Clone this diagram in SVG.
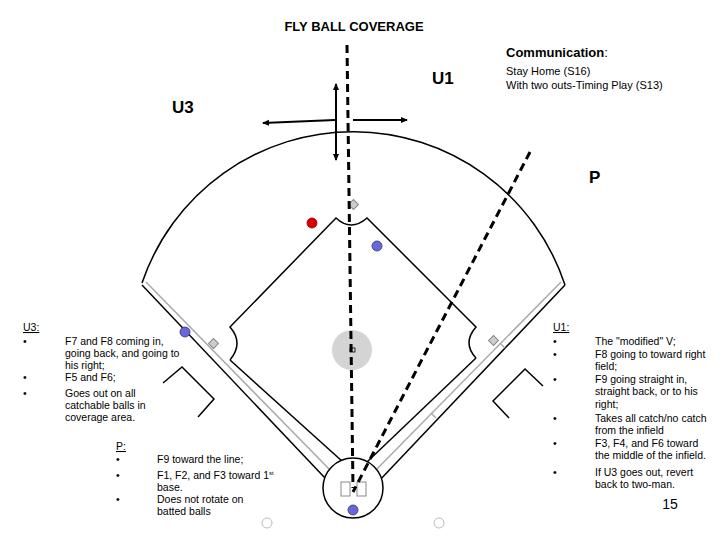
<svg xmlns="http://www.w3.org/2000/svg" width="720" height="540" viewBox="0 0 720 540">
<style>
text{font-family:"Liberation Sans",Arial,sans-serif;fill:#000}
.s{font-size:10.5px}
.b{font-weight:bold;font-size:17px}
.fl{fill:none;stroke:#000;stroke-width:1.5}
.g{fill:none;stroke:#aaa;stroke-width:1.5}
.d{fill:none;stroke:#000;stroke-width:3;stroke-dasharray:8,5}
.ar{stroke:#000;stroke-width:2;fill:none}
.base{fill:#ccc;stroke:#888;stroke-width:1}
</style>
<defs>
<marker id="ah" markerWidth="8" markerHeight="8" refX="6" refY="4" orient="auto-start-reverse" markerUnits="userSpaceOnUse"><path d="M0,1 L7,4 L0,7 z" fill="#000"/></marker>
</defs>
<rect width="720" height="540" fill="#fff"/>
<g id="field">
<path class="fl" d="M142,283 A223,223 0 0 1 565,285"/>
<line class="fl" x1="142" y1="285" x2="325" y2="478"/>
<line class="g" x1="146" y1="282" x2="332" y2="472"/>
<line class="fl" x1="230" y1="360" x2="343" y2="462"/>
<line class="fl" x1="565" y1="285" x2="378" y2="482"/>
<line class="g" x1="561" y1="282" x2="371" y2="475"/>
<line class="fl" x1="476" y1="358" x2="367" y2="462"/>
<line class="g" stroke-width="1" x1="500" y1="343" x2="505" y2="348"/>
<line class="g" stroke-width="1" x1="431" y1="413" x2="436" y2="418"/>
<path class="fl" d="M230,360 Q244,343 230,327 L336,218 Q351,232 367,218 L476,327 Q462,343 476,358"/>
<polyline class="fl" stroke-width="1" points="163,383 182,367 214,399 198,417"/>
<polyline class="fl" stroke-width="1" points="543,386 525,369 493,401 509,418"/>
<rect class="base" x="350" y="201" width="7" height="7" transform="rotate(45 353.5 204.5)"/>
<rect class="base" x="210" y="340" width="7" height="7" transform="rotate(45 213.5 343.5)"/>
<rect class="base" x="490" y="337" width="7" height="7" transform="rotate(45 493.5 340.5)"/>
<circle cx="352" cy="350" r="20" fill="#d4d4d4"/>
<rect x="350" y="348" width="5" height="4" fill="none" stroke="#000" stroke-width="0.8"/>
<circle cx="353" cy="488" r="30" fill="#fff" stroke="#000" stroke-width="1.5"/>
<rect x="341" y="482" width="9" height="14" fill="none" stroke="#888"/>
<rect x="357" y="482" width="9" height="14" fill="none" stroke="#888"/>
<circle cx="267" cy="523" r="5" fill="none" stroke="#bbb"/>
<circle cx="439" cy="523" r="5" fill="none" stroke="#bbb"/>
</g>
<g id="players">
<g id="F2"><circle cx="312" cy="223" r="5" fill="#d00" stroke="#800" stroke-width="0.8"/></g>
<g id="U1dot"><circle cx="377" cy="246" r="5" fill="#6666dd" stroke="#336" stroke-width="0.8"/></g>
<g id="U3dot"><circle cx="185" cy="332" r="5" fill="#6666dd" stroke="#336" stroke-width="0.8"/></g>
<g id="Pdot"><circle cx="353" cy="510" r="5" fill="#6666dd" stroke="#336" stroke-width="0.8"/></g>
</g>
<g id="connectors">
<line class="d" x1="347" y1="45" x2="353" y2="488"/>
<line class="d" x1="530" y1="152" x2="353" y2="492"/>
<line class="ar" x1="336" y1="84" x2="336" y2="160" marker-start="url(#ah)" marker-end="url(#ah)"/>
<line class="ar" x1="335" y1="120" x2="263" y2="123" marker-end="url(#ah)"/>
<line class="ar" x1="353" y1="120" x2="407" y2="120" stroke-width="1.5" marker-end="url(#ah)"/>
</g>
<g id="labels">
<text x="354" y="31" text-anchor="middle" font-weight="bold" font-size="13">FLY BALL COVERAGE</text>
<text x="506" y="57" font-size="13"><tspan font-weight="bold">Communication</tspan>:</text>
<text x="506" y="75" font-size="11">Stay Home (S16)</text>
<text x="506" y="89" font-size="11">With two outs-Timing Play (S13)</text>
<text x="432" y="84" class="b">U1</text>
<text x="172" y="113" class="b">U3</text>
<text x="589" y="183" class="b">P</text>
</g>
<g id="u3text" class="s">
<text x="23" y="331" class="s" text-decoration="underline">U3:</text>
<text x="23" y="345" class="s">•</text><text x="23" y="381" class="s">•</text><text x="23" y="397" class="s">•</text>
<text x="65" y="345" class="s">F7 and F8 coming in,</text>
<text x="65" y="357" class="s">going back, and going to</text>
<text x="65" y="369" class="s">his right;</text>
<text x="65" y="381" class="s">F5 and F6;</text>
<text x="65" y="397" class="s">Goes out on all</text>
<text x="65" y="409" class="s">catchable balls in</text>
<text x="65" y="421" class="s">coverage area.</text>
</g>
<g id="ptext">
<text x="116" y="450" class="s" text-decoration="underline">P:</text>
<text x="116" y="463" class="s">•</text><text x="116" y="479" class="s">•</text><text x="116" y="503" class="s">•</text>
<text x="157" y="463" class="s">F9 toward the line;</text>
<text x="157" y="479" class="s">F1, F2, and F3 toward 1<tspan font-size="6" dy="-4">st</tspan></text>
<text x="157" y="491" class="s">base.</text>
<text x="157" y="503" class="s">Does not rotate on</text>
<text x="157" y="515" class="s">batted balls</text>
</g>
<g id="u1text">
<text x="553" y="331" class="s" text-decoration="underline">U1:</text>
<text x="553" y="345" class="s">•</text><text x="553" y="358" class="s">•</text><text x="553" y="383" class="s">•</text><text x="553" y="422" class="s">•</text><text x="553" y="447" class="s">•</text><text x="553" y="476" class="s">•</text>
<text x="595" y="345" class="s">The "modified" V;</text>
<text x="595" y="358" class="s">F8 going to toward right</text>
<text x="595" y="370" class="s">field;</text>
<text x="595" y="383" class="s">F9 going straight in,</text>
<text x="595" y="395" class="s">straight back, or to his</text>
<text x="595" y="408" class="s">right;</text>
<text x="595" y="422" class="s">Takes all catch/no catch</text>
<text x="595" y="434" class="s">from the infield</text>
<text x="595" y="447" class="s">F3, F4, and F6 toward</text>
<text x="595" y="459" class="s">the middle of the infield.</text>
<text x="595" y="476" class="s">If U3 goes out, revert</text>
<text x="595" y="488" class="s">back to two-man.</text>
<text x="670" y="509" font-size="14" text-anchor="middle">15</text>
</g>
</svg>
